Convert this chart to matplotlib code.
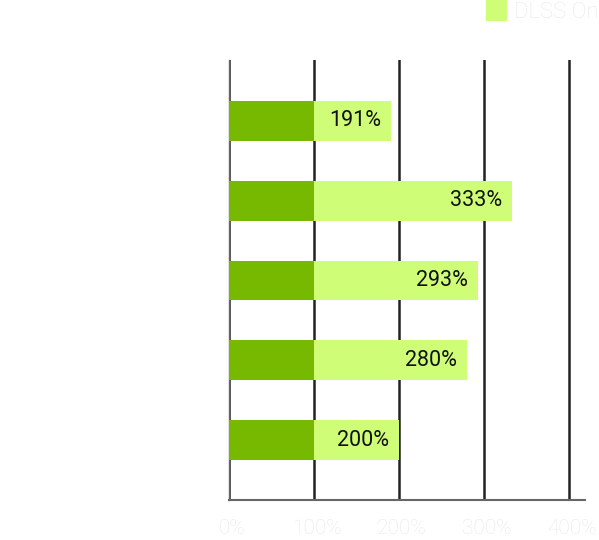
import matplotlib.pyplot as plt
from matplotlib.patches import Rectangle
from matplotlib.transforms import ScaledTranslation

plt.rcParams["font.family"] = ["Roboto", "DejaVu Sans"]

# Data: five rows, DLSS Off is the 100% baseline, DLSS On is the relative performance
rows = [0, 1, 2, 3, 4]
dlss_off = [100, 100, 100, 100, 100]
dlss_on = [191, 333, 293, 280, 200]
xticks = [0, 100, 200, 300, 400]
xtick_labels = ["0%", "100%", "200%", "300%", "400%"]
legend_label = "DLSS On"

dark_green = "#76b900"
light_green = "#cffd78"

fig = plt.figure(figsize=(5.99, 5.4), dpi=100)
ax = fig.add_axes([229 / 599, 1 - 500 / 540, (585 - 229) / 599, 440 / 540])

# light bars first, dark baseline bars on top
ax.barh(rows, dlss_on, height=0.5, color=light_green, zorder=2)
ax.barh(rows, dlss_off, height=0.5, color=dark_green, zorder=3)

for r, v in zip(rows, dlss_on):
    ax.text(v - 12, r, f"{v}%", ha="right", va="center", fontsize=15.5,
            color="#111111", zorder=4)

ax.set_xlim(0, 419)
ax.set_ylim(4.75, -0.7625)
ax.set_xticks(xticks)
ax.set_xticklabels(xtick_labels, fontsize=15, color="#e9e9e9", fontweight="light")
ax.set_yticks([])
ax.tick_params(axis="x", length=0, pad=14)
shift = ScaledTranslation(3 / 100, 0, fig.dpi_scale_trans)
for lbl in ax.get_xticklabels():
    lbl.set_transform(lbl.get_transform() + shift)

ax.grid(axis="x", color="#222222", linewidth=1.8, zorder=1)
ax.set_axisbelow(True)
for side in ["top", "right"]:
    ax.spines[side].set_visible(False)
ax.spines["left"].set_color("#666666")
ax.spines["left"].set_linewidth(1)
ax.spines["bottom"].set_color("#666666")
ax.spines["bottom"].set_linewidth(1.5)

# legend at top right
fig.patches.append(Rectangle((486 / 599, 1 - 20 / 540), 20 / 599, 20 / 540,
                             transform=fig.transFigure, color=light_green))
fig.text(514 / 599, 1 - 12 / 540, legend_label, ha="left", va="center",
         fontsize=16, color="#e9e9e9", fontweight="light")

fig.savefig("out.png", dpi=100, facecolor="white")
